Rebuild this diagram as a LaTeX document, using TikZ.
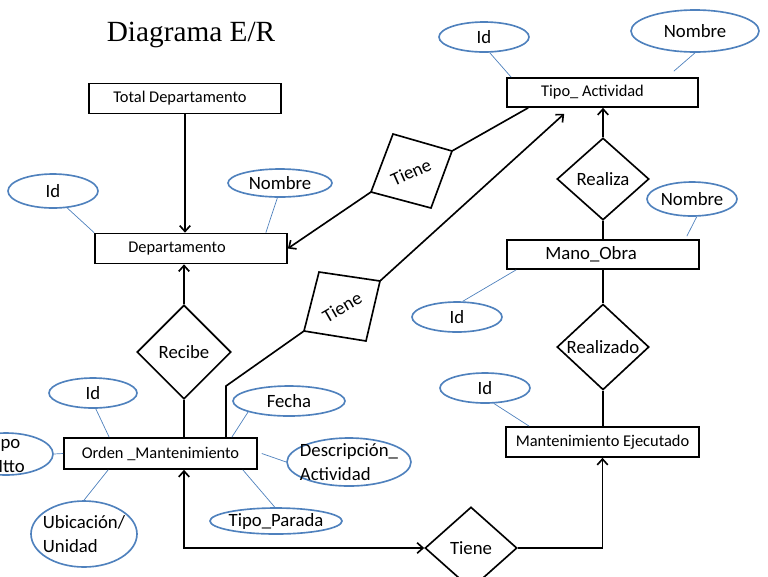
\documentclass[tikz,border=0pt]{standalone}
\usepackage{fontspec}
\setmainfont{Carlito}
\newfontfamily\titulofont{Liberation Serif}
\usetikzlibrary{shapes.geometric,arrows.meta}
\newlength{\unidad}
\setlength{\unidad}{0.03cm}
\definecolor{azulAttr}{RGB}{79,129,189}
\tikzset{
  entidad/.style={draw, line width=1.4pt, minimum height=30\unidad, inner sep=0pt,
    font=\fontsize{14}{16}\selectfont},
  atributo/.style={draw=azulAttr, line width=1.4pt, ellipse, inner sep=0pt},
  atrtexto/.style={font=\fontsize{16}{20}\selectfont, align=left, inner sep=0pt},
  relacion/.style={draw, line width=1.4pt, diamond, inner sep=0pt,
    minimum width=92\unidad, minimum height=84\unidad, font=\fontsize{16}{19}\selectfont},
  enlace/.style={line width=1.4pt},
  flecha/.style={line width=1.4pt, -{Straight Barb[length=5pt,width=9pt]}},
  flechas/.style={line width=1.4pt, {Straight Barb[length=5pt,width=9pt]}-{Straight Barb[length=5pt,width=9pt]}},
  atrlinea/.style={draw=azulAttr, line width=0.6pt}
}
\begin{document}
\begin{tikzpicture}[x=0.03cm, y=-0.03cm]
    \useasboundingbox (0,0) rectangle (768,576);
    % Título
    \node[font=\titulofont\fontsize{25}{30}\selectfont] (titulo) at (191,35) {Diagrama E/R};
    % Entidades
    \node[entidad, minimum width=192\unidad] (total) at (185,98.5) {Total Departamento\hspace*{10\unidad}};
    \node[entidad, minimum width=192\unidad] (dep) at (191,248.5) {Departamento\hspace*{28\unidad}};
    \node[entidad, minimum width=193\unidad, minimum height=31\unidad] (orden) at (160.5,453.5) {Orden \_Mantenimiento};
    \node[entidad, minimum width=191\unidad, minimum height=29\unidad] (tipoAct) at (602.5,92.5) {Tipo\_ Actividad\hspace*{20\unidad}};
    \node[entidad, minimum width=192\unidad, minimum height=29\unidad,
          font=\fontsize{16}{18}\selectfont] (mano) at (603,254.5) {Mano\_Obra\hspace*{24\unidad}};
    \node[entidad, minimum width=193\unidad] (meje) at (602.5,442) {Mantenimiento Ejecutado};
    % Relaciones
    \node[relacion, minimum width=94\unidad, minimum height=94\unidad] (recibe) at (184,352) {Recibe};
    \node[relacion, minimum height=82\unidad] (realiza) at (603,179) {Realiza};
    \node[relacion] (realizado) at (603,347) {Realizado};
    \node[relacion, minimum height=82\unidad] (tieneB) at (471,548) {Tiene};
    % Relaciones inclinadas
    \coordinate (t1N) at (393,134); \coordinate (t1E) at (452,151);
    \coordinate (t1S) at (431,208); \coordinate (t1W) at (371,192);
    \draw[enlace] (t1N) -- (t1E) -- (t1S) -- (t1W) -- cycle;
    \node[font=\fontsize{16}{19}\selectfont, rotate=24] (tieneA) at (411,172) {Tiene};
    \coordinate (t2N) at (319,272); \coordinate (t2E) at (380,281);
    \coordinate (t2S) at (366,341); \coordinate (t2W) at (304,331);
    \draw[enlace] (t2N) -- (t2E) -- (t2S) -- (t2W) -- cycle;
    \node[font=\fontsize{16}{19}\selectfont, rotate=30] (tieneC) at (342,307) {Tiene};
    \coordinate (codo) at (226,386);
    % Atributos
    \foreach \nm/\x/\y/\w/\h/\txt in {
        depId/53/191/90/34/Id, depNom/280/183/104/28/Nombre,
        ordId/93/393/88/30/Id, ordTipo/6/454/94/42/{Tipo\\Mtto},
        ordFecha/289/401/112/30/Fecha, ordDesc/349/462/124/48/{Descripción\_\\Actividad},
        ordPar/276/521/132/26/Tipo\_Parada, ordUbic/84/534/106/66/{Ubicación/\\Unidad},
        taId/484/37/90/30/Id, taNom/695/31/128/42/Nombre,
        moNom/692/199/90/34/Nombre, moId/457/317/90/30/Id,
        meId/485/388/90/30/Id}{
        \node[atributo, minimum width=\w\unidad, minimum height=\h\unidad] (\nm) at (\x,\y) {};
        \node[atrtexto] (\nm-t) at (\x,\y) {\txt};
    }
    % Líneas de atributos
    \draw[atrlinea] (depId.-50) -- (dep.north west);
    \draw[atrlinea] (depNom.-100) -- ([xshift=-22\unidad]dep.north east);
    \draw[atrlinea] (ordId.-80) -- ([xshift=46\unidad]orden.north west);
    \draw[atrlinea] (ordTipo.east) -- (orden.west);
    \draw[atrlinea] (ordFecha.-165) -- ([xshift=-26\unidad]orden.north east);
    \draw[atrlinea] (ordDesc.west) -- ([xshift=4\unidad]orden.east);
    \draw[atrlinea] (ordPar.95) -- ([xshift=-15\unidad]orden.south east);
    \draw[atrlinea] (ordUbic.north) -- ([xshift=45\unidad]orden.south west);
    \draw[atrlinea] (taId.-70) -- ([xshift=5\unidad]tipoAct.north west);
    \draw[atrlinea] (taNom.south) -- ([xshift=-25\unidad,yshift=6\unidad]tipoAct.north east);
    \draw[atrlinea] (moNom.-75) -- ([xshift=-13\unidad,yshift=3\unidad]mano.north east);
    \draw[atrlinea] (moId.70) -- ([xshift=10\unidad]mano.south west);
    \draw[atrlinea] (meId.-60) -- ([xshift=24\unidad]meje.north west);
    % Conexiones
    \draw[flecha] (total.south) -- (total.south |- dep.north);
    \draw[flecha] (recibe.north) -- (recibe.north |- dep.south);
    \draw[enlace] (recibe.south) -- (recibe.south |- orden.north);
    \draw[flecha] (t1W) -- (dep.east);
    \draw[enlace] (t1E) -- ([xshift=22\unidad]tipoAct.south west);
    \draw[flecha] (t2E) -- ([xshift=58\unidad,yshift=-6\unidad]tipoAct.south west);
    \draw[enlace] (t2W) -- (codo) -- (codo |- orden.north);
    \draw[flecha] (realiza.north) -- (realiza.north |- tipoAct.south);
    \draw[enlace] (realiza.south) -- (realiza.south |- mano.north);
    \draw[enlace] (mano.south -| realizado) -- (realizado.north);
    \draw[enlace] (realizado.south) -- (realizado.south |- meje.north);
    \draw[flechas] (orden.south -| recibe) |- (tieneB.west);
    \draw[flecha] (tieneB.east) -| (meje.south);
\end{tikzpicture}
\end{document}
